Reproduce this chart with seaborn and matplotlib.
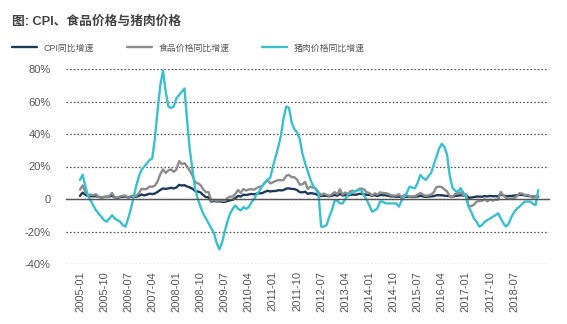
import numpy as np
import pandas as pd
import matplotlib
matplotlib.use("Agg")
import matplotlib.pyplot as plt
import seaborn as sns

# ---------------- data ----------------
months = pd.period_range("2005-01", "2019-04", freq="M")
month_labels = [p.strftime("%Y-%m") for p in months]

series_names = ["CPI同比增速", "食品价格同比增速", "猪肉价格同比增速"]
series_colors = ["#1f3a56", "#8c8c8c", "#3bbfcf"]

cpi = [1.9, 3.9, 2.7, 1.8, 1.8, 1.6, 1.8, 1.3, 0.9, 1.2, 1.3, 1.6,
       1.9, 0.9, 0.8, 1.2, 1.4, 1.5, 1.0, 1.3, 1.5, 1.4, 1.9, 2.8,
       2.2, 2.7, 3.3, 3.0, 3.4, 4.4, 5.6, 6.5, 6.2, 6.5, 6.9, 6.5,
       7.1, 8.7, 8.3, 8.5, 7.7, 7.1, 6.3, 4.9, 4.6, 4.0, 2.4, 1.2,
       1.0, -1.6, -1.2, -1.5, -1.4, -1.7, -1.8, -1.2, -0.8, -0.5, 0.6, 1.9,
       1.5, 2.7, 2.4, 2.8, 3.1, 2.9, 3.3, 3.5, 3.6, 4.4, 5.1, 4.6,
       4.9, 4.9, 5.4, 5.3, 5.5, 6.4, 6.5, 6.2, 6.1, 5.5, 4.2, 4.1,
       4.5, 3.2, 3.6, 3.4, 3.0, 2.2, 1.8, 2.0, 1.9, 1.7, 2.0, 2.5,
       2.0, 3.2, 2.1, 2.4, 2.1, 2.7, 2.7, 2.6, 3.1, 3.2, 3.0, 2.5,
       2.5, 2.0, 2.4, 1.8, 2.5, 2.3, 2.3, 2.0, 1.6, 1.6, 1.4, 1.5,
       0.8, 1.4, 1.4, 1.5, 1.2, 1.4, 1.6, 2.0, 1.6, 1.3, 1.5, 1.6,
       1.8, 2.3, 2.3, 2.3, 2.0, 1.9, 1.8, 1.3, 1.9, 2.1, 2.3, 2.1,
       2.5, 0.8, 0.9, 1.2, 1.5, 1.5, 1.4, 1.8, 1.6, 1.9, 1.7, 1.8,
       1.5, 2.9, 2.1, 1.8, 1.8, 1.9, 2.1, 2.3, 2.5, 2.5, 2.2, 1.9,
       1.7, 1.5, 1.5, 1.5]

food = [5.7, 8.4, 4.4, 2.7, 2.6, 2.4, 2.9, 1.2, 0.7, 1.5, 1.3, 2.0,
        3.7, 0.8, 0.9, 1.6, 2.0, 2.1, 0.6, 1.8, 2.1, 1.9, 3.6, 6.3,
        6.0, 6.3, 7.7, 7.5, 8.3, 11.0, 15.4, 18.2, 16.0, 17.6, 18.2, 16.7,
        18.2, 23.3, 21.4, 22.1, 19.9, 17.3, 14.4, 10.3, 9.7, 8.5, 5.9, 4.2,
        4.2, -1.1, -0.5, -1.1, -0.9, -1.1, -1.2, 0.5, 1.5, 1.5, 3.2, 5.5,
        3.7, 6.2, 5.2, 5.9, 6.1, 5.7, 6.8, 7.5, 8.0, 10.1, 11.7, 9.6,
        10.3, 11.0, 11.7, 11.5, 11.7, 14.4, 14.8, 13.4, 13.4, 11.9, 8.8, 9.1,
        10.5, 6.2, 7.5, 7.0, 6.4, 4.2, 2.4, 3.4, 2.5, 2.0, 2.9, 4.2,
        2.9, 6.0, 2.7, 4.0, 3.2, 4.9, 5.0, 4.7, 6.1, 6.5, 5.9, 4.1,
        3.7, 2.1, 3.5, 2.7, 4.1, 3.7, 3.6, 3.2, 2.3, 2.2, 2.1, 2.9,
        1.1, 2.4, 2.3, 1.5, 1.6, 1.7, 2.7, 3.7, 2.7, 1.9, 2.3, 2.7,
        4.1, 7.3, 7.6, 7.4, 5.9, 4.6, 1.7, 1.3, 3.2, 3.8, 4.0, 2.4,
        2.7, -4.3, -4.4, -3.5, -1.6, -1.2, -1.1, -0.2, -1.4, -0.4, -1.1, -0.4,
        -0.5, 4.4, 2.1, 0.7, 0.1, 0.3, 0.5, 1.7, 3.6, 3.3, 2.5, 2.5,
        1.9, 0.7, 1.5, 1.5]

pork = [11.7, 15, 8, 2, -1, -4, -7, -9, -11, -13, -14, -12,
        -10, -12, -13, -14, -16, -17, -12, -6, 1, 8, 14, 18,
        20, 22, 24, 25, 38, 55, 70, 79, 66, 57, 56, 57,
        62, 64, 66, 68, 48, 30, 18, 6, 0, -5, -9, -12,
        -15, -18, -21, -27, -31, -27, -20, -14, -9, -6, -4, -6,
        -7, -5, -6, -5, -2, 0, 3, 5, 8, 10, 12, 13,
        20, 26, 32, 39, 50, 57, 56, 47, 43, 41, 37, 28,
        22, 17, 12, 8, 6, 3, -17, -17, -16, -11, -7, -1,
        -1, -2.7, -2.7, 0, 2.5, 3.5, 4.5, 5, 5.5, 5.5, 2, -0.6,
        -4, -7.8, -7, -5.7, -1.6, -1.6, -2.7, -2.7, -2.7, -2.7, -2.7, -4.7,
        -1, 1.4, 4, 7.6, 7, 6.6, 10, 14.8, 13, 11.7, 14, 16,
        21, 26, 31, 34, 32, 27, 14, 7, 5, 4.5, 6.6, 4,
        1.4, -4.7, -8, -12, -14, -17, -16, -14, -13, -12, -11, -10,
        -8.8, -12, -15, -17, -15, -11, -8, -6, -4.7, -3, -1.6, -1.6,
        -1.6, -3, -3.7, 5.5]

tick_step = 9
y_ticks = [-40, -20, 0, 20, 40, 60, 80]
title_text = "图: CPI、食品价格与猪肉价格"

# ---------------- plot ----------------
n = len(month_labels)
df = pd.DataFrame({
    "idx": np.tile(np.arange(n), 3),
    "value": cpi + food + pork,
    "series": np.repeat(series_names, n),
})

sns.set_theme(style="white")
plt.rcParams["font.family"] = ["Liberation Sans", "Noto Sans CJK SC", "DejaVu Sans"]

fig = plt.figure(figsize=(5.67, 3.24), dpi=100, facecolor="white")
ax = fig.add_axes([66 / 567, 1 - 264 / 324, (549 - 66) / 567, (264 - 69) / 324])

sns.lineplot(data=df, x="idx", y="value", hue="series", hue_order=series_names,
             palette=series_colors, linewidth=1.7, ax=ax, legend=False)

ax.set_xlim(-5.2, 175)
ax.set_ylim(-40, 80)
ax.set_xlabel("")
ax.set_ylabel("")

# x ticks (every 9 months), last tick unlabeled
xt = list(range(0, n, tick_step))
xl = [month_labels[i] if i <= 162 else "" for i in xt]
ax.set_xticks(xt)
ax.set_xticklabels(xl)
ax.tick_params(axis="x", direction="out", length=4, width=1, color="#555555",
               pad=48, labelsize=8, labelcolor="#555555", labelrotation=90)

ax.set_yticks(y_ticks)
ax.set_yticklabels(["0" if v == 0 else f"{v}%" for v in y_ticks])
ax.tick_params(axis="y", length=0, pad=11, labelsize=8, labelcolor="#555555")

for s in ["top", "right", "left"]:
    ax.spines[s].set_visible(False)
ax.spines["bottom"].set_position(("data", 0))
ax.spines["bottom"].set_color("#555555")
ax.spines["bottom"].set_linewidth(1.0)

ax.yaxis.grid(True, linestyle=(0, (1.3, 1.6)), color="#555555", linewidth=0.9)
ax.xaxis.grid(False)
ax.set_axisbelow(True)

fig.text(12 / 567, 1 - 22 / 324, title_text, fontsize=9.2, fontweight="bold",
         color="#444444", va="center", ha="left")

handles = ax.get_lines()[:3]
fig.legend(handles, series_names, loc="center left",
           bbox_to_anchor=(12 / 567, 1 - 48 / 324), ncol=3, frameon=False,
           fontsize=6.4, handlelength=2.8, handletextpad=0.75, columnspacing=3.7,
           borderpad=0, borderaxespad=0, labelcolor="#555555")

fig.savefig("out.png", dpi=100, facecolor="white")
